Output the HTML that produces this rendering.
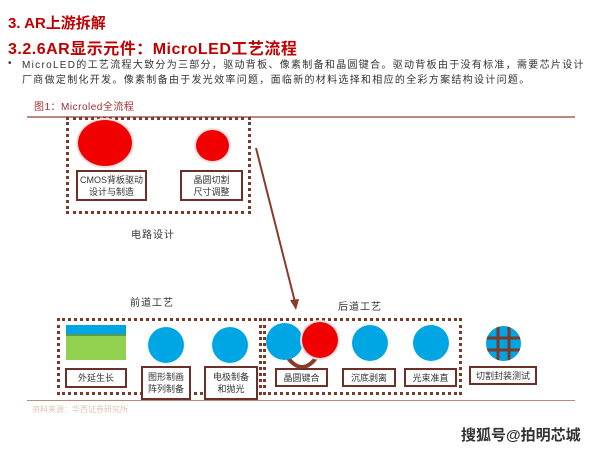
<!DOCTYPE html><html><head><meta charset="utf-8"><style>
body{margin:0;width:600px;height:450px;background:#fff;position:relative;overflow:hidden;font-family:"Liberation Sans","Noto Sans CJK SC",sans-serif}
.a{position:absolute}
.t{color:#c00000;font-weight:bold;white-space:nowrap}
.box{position:absolute;border:3px dotted #7a3a2a;box-sizing:border-box}
.lb{position:absolute;border:2px solid #6b3026;box-sizing:border-box;font-size:9px;color:#333;text-align:center;display:flex;align-items:center;justify-content:center;line-height:12px;background:#fff}
.c{position:absolute;border-radius:50%}
.b{background:#00a6e4}.r{background:#f00000;box-shadow:0 0 0 2px #f4dede}
.s{font-size:10px;color:#333;white-space:nowrap}
</style></head><body>
<div class="a t" style="left:8px;top:12px;font-size:15px">3. AR上游拆解</div>
<div class="a t" style="left:8px;top:35px;font-size:16px;letter-spacing:0.5px">3.2.6AR显示元件：MicroLED工艺流程</div>
<div class="a s" style="left:8px;top:58px">•</div>
<div class="a s" style="left:22px;top:58px;font-size:10px;line-height:15px;letter-spacing:1.3px">MicroLED的工艺流程大致分为三部分，驱动背板、像素制备和晶圆键合。驱动背板由于没有标准，需要芯片设计<br>厂商做定制化开发。像素制备由于发光效率问题，面临新的材料选择和相应的全彩方案结构设计问题。</div>
<div class="a" style="left:34px;top:98px;font-size:10px;color:#a03030;letter-spacing:0.5px">图1：Microled全流程</div>
<div class="a" style="left:27px;top:116px;width:548px;height:2px;background:#b88a80"></div>
<div class="box" style="left:66px;top:117px;width:185px;height:97px"></div>
<div class="c r" style="left:78px;top:120px;width:54px;height:46px"></div>
<div class="c r" style="left:196px;top:130px;width:33px;height:31px"></div>
<div class="lb" style="left:76px;top:170px;width:71px;height:31px">CMOS背板驱动<br>设计与制造</div>
<div class="lb" style="left:180px;top:170px;width:63px;height:31px">晶圆切割<br>尺寸调整</div>
<div class="a s" style="left:131px;top:226px;letter-spacing:1px">电路设计</div>
<svg class="a" style="left:0;top:0" width="600" height="450"><line x1="256" y1="148" x2="295" y2="302" stroke="#8b3a2a" stroke-width="2"/><path d="M290,300 L296,310 L299,299 Z" fill="#8b3a2a"/>
<path d="M288,358 Q302,376 316,358" fill="none" stroke="#8b3a2a" stroke-width="4"/></svg>
<div class="a s" style="left:130px;top:294px;letter-spacing:1px">前道工艺</div>
<div class="a s" style="left:338px;top:298px;letter-spacing:1px">后道工艺</div>
<div class="box" style="left:57px;top:318px;width:205px;height:77px"></div>
<div class="box" style="left:263px;top:318px;width:199px;height:77px"></div>
<div class="a" style="left:66px;top:325px;width:60px;height:35px;background:#92d050"></div>
<div class="a" style="left:66px;top:325px;width:60px;height:10px;background:#00a6e4"></div>
<div class="a" style="left:66px;top:334px;width:60px;height:2px;background:#5a9a50"></div>
<div class="c b" style="left:148px;top:327px;width:36px;height:36px"></div>
<div class="c b" style="left:212px;top:327px;width:36px;height:36px"></div>
<div class="c b" style="left:266px;top:323px;width:37px;height:37px"></div>
<div class="c r" style="left:302px;top:322px;width:36px;height:36px"></div>
<div class="c b" style="left:352px;top:325px;width:36px;height:36px"></div>
<div class="c b" style="left:413px;top:325px;width:36px;height:36px"></div>
<div class="c b" style="left:486px;top:326px;width:35px;height:35px;overflow:hidden"><svg width="35" height="35"><g stroke="#7a3a2a" stroke-width="3"><line x1="12" y1="0" x2="12" y2="35"/><line x1="23" y1="0" x2="23" y2="35"/><line x1="0" y1="12" x2="35" y2="12"/><line x1="0" y1="24" x2="35" y2="24"/></g></svg></div>
<div class="lb" style="left:65px;top:368px;width:62px;height:20px">外延生长</div>
<div class="lb" style="left:141px;top:366px;width:50px;height:34px">图形制画<br>阵列制备</div>
<div class="lb" style="left:204px;top:366px;width:54px;height:34px">电极制备<br>和抛光</div>
<div class="lb" style="left:275px;top:368px;width:53px;height:19px">晶圆键合</div>
<div class="lb" style="left:342px;top:368px;width:54px;height:19px">沉底剥离</div>
<div class="lb" style="left:404px;top:368px;width:53px;height:19px">光束准直</div>
<div class="lb" style="left:469px;top:366px;width:68px;height:19px">切割封装测试</div>
<div class="a" style="left:27px;top:400px;width:548px;height:1px;background:#b88a80"></div>
<div class="a" style="left:32px;top:404px;font-size:8px;color:#d8c8b8">资料来源：华西证券研究所</div>
<div class="a" style="left:461px;top:424px;font-size:15px;font-weight:bold;color:#333;text-shadow:0 0 2px #fff">搜狐号@拍明芯城</div>
</body></html>
